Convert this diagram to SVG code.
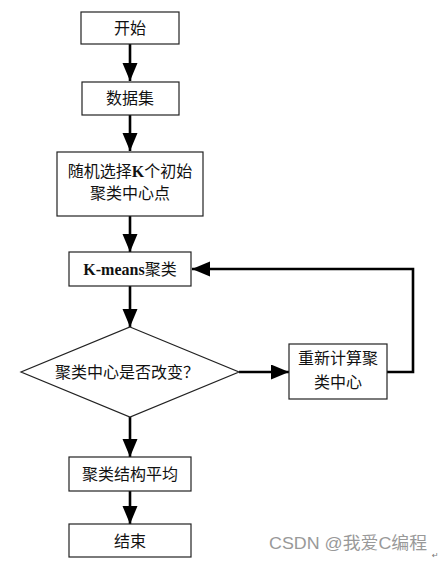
<svg xmlns="http://www.w3.org/2000/svg" width="443" height="561" viewBox="0 0 443 561">
<style>
.box{fill:#fff;stroke:#222;stroke-width:1.2}
.t{font-family:"Liberation Serif","Noto Sans CJK SC",serif;font-size:16px;fill:#111;text-anchor:middle}
.b{font-weight:bold}
.c{fill:none;stroke:#000;stroke-width:2.6}
.wm{font-family:"Liberation Sans","Noto Sans CJK SC",sans-serif;font-size:17px;fill:#999}
</style>
<defs>
<marker id="ah" markerUnits="userSpaceOnUse" markerWidth="18" markerHeight="16" refX="18" refY="7.5" orient="auto">
<path d="M0,0 L18,7.5 L0,15 Z" fill="#000"/>
</marker>
</defs>
<rect width="443" height="561" fill="#fff"/>
<g id="connectors">
<line class="c" x1="130" y1="44" x2="130" y2="81" marker-end="url(#ah)"/>
<line class="c" x1="130" y1="115" x2="130" y2="151" marker-end="url(#ah)"/>
<line class="c" x1="130" y1="216" x2="130" y2="252" marker-end="url(#ah)"/>
<line class="c" x1="130" y1="286" x2="130" y2="327" marker-end="url(#ah)"/>
<line class="c" x1="239" y1="372" x2="289" y2="372" marker-end="url(#ah)"/>
<polyline class="c" points="387,372 413,372 413,269 192,269" marker-end="url(#ah)"/>
<line class="c" x1="130" y1="417" x2="130" y2="457" marker-end="url(#ah)"/>
<line class="c" x1="130" y1="491" x2="130" y2="524" marker-end="url(#ah)"/>
</g>
<g id="start">
<rect class="box" x="81" y="12" width="98" height="32"/>
<text class="t" x="130" y="34">开始</text>
</g>
<g id="dataset">
<rect class="box" x="82" y="82" width="97" height="33"/>
<text class="t" x="130" y="104">数据集</text>
</g>
<g id="init">
<rect class="box" x="57" y="152" width="146" height="64"/>
<text class="t" x="130" y="177">随机选择<tspan class="b">K</tspan>个初始</text>
<text class="t" x="130" y="199">聚类中心点</text>
</g>
<g id="kmeans">
<rect class="box" x="69" y="252" width="122" height="34"/>
<text class="t" x="130" y="275"><tspan class="b">K-means</tspan>聚类</text>
</g>
<g id="decision">
<polygon class="box" points="130,327 239,372 130,417 21,372"/>
<text class="t" x="127" y="378">聚类中心是否改变？</text>
</g>
<g id="recompute">
<rect class="box" x="289" y="344" width="98" height="55"/>
<text class="t" x="338" y="364">重新计算聚</text>
<text class="t" x="338" y="388">类中心</text>
</g>
<g id="average">
<rect class="box" x="69" y="457" width="122" height="34"/>
<text class="t" x="130" y="480">聚类结构平均</text>
</g>
<g id="end">
<rect class="box" x="69" y="524" width="122" height="33"/>
<text class="t" x="130" y="547">结束</text>
</g>
<text class="wm" x="269" y="549" textLength="158" lengthAdjust="spacingAndGlyphs">CSDN @我爱C编程</text>
<text x="432" y="558" style="font-family:'DejaVu Sans',sans-serif;font-size:8px;fill:#777">↵</text>
</svg>
